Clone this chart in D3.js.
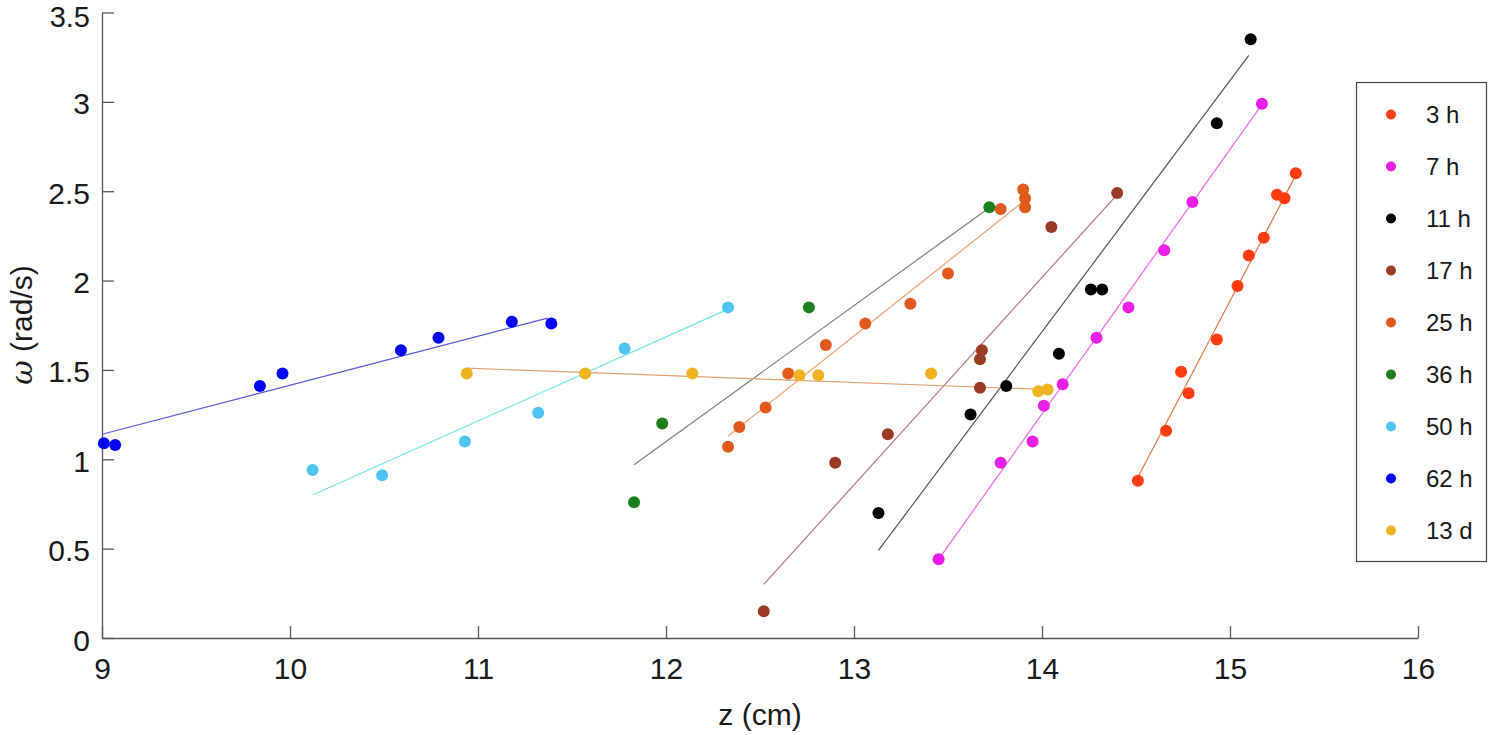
<!DOCTYPE html>
<html>
<head>
<meta charset="utf-8">
<script src="https://cdn.jsdelivr.net/npm/d3@7"></script>
<style>
  body { margin: 0; background: #fff; }
  text { font-family: "Liberation Sans", Arial, sans-serif; fill: #1a1a1a; }
</style>
</head>
<body>
<div id="chart"></div>
<script>

// series labels and colours (legend order)
var seriesNames = ["3 h", "7 h", "11 h", "17 h", "25 h", "36 h", "50 h", "62 h", "13 d"];
var dotColors = ["#ff3d0f", "#ea1ee6", "#000000", "#9a3b24", "#df5a1c", "#1b7f1b", "#4dc3f2", "#0000ff", "#efb322"];
var lineColors = ["#e07a40", "#ee66ee", "#555555", "#b07a88", "#f0a070", "#7d8272", "#6fe8e6", "#5555dd", "#e0a070"];

// measured z (cm) per series
var zVals = [
  [14.51, 14.66, 14.74, 14.78, 14.93, 15.04, 15.10, 15.18, 15.25, 15.29, 15.35],
  [13.45, 13.78, 13.95, 14.01, 14.11, 14.29, 14.46, 14.65, 14.80, 15.17],
  [13.13, 13.62, 13.81, 14.09, 14.26, 14.32, 14.93, 15.11],
  [12.52, 12.90, 13.18, 13.67, 13.67, 13.68, 14.05, 14.40],
  [12.33, 12.39, 12.53, 12.65, 12.85, 13.06, 13.30, 13.50, 13.78, 13.90, 13.91, 13.91],
  [11.83, 11.98, 12.76, 13.72],
  [10.12, 10.49, 10.93, 11.32, 11.78, 12.33],
  [9.01, 9.07, 9.84, 9.96, 10.59, 10.79, 11.18, 11.39],
  [10.94, 11.57, 12.14, 12.71, 12.81, 13.41, 13.98, 14.03]
];

// measured omega (rad/s) per series
var wVals = [
  [0.88, 1.16, 1.49, 1.37, 1.67, 1.97, 2.14, 2.24, 2.48, 2.46, 2.60],
  [0.44, 0.98, 1.10, 1.30, 1.42, 1.68, 1.85, 2.17, 2.44, 2.99],
  [0.70, 1.25, 1.41, 1.59, 1.95, 1.95, 2.88, 3.35],
  [0.15, 0.98, 1.14, 1.40, 1.56, 1.61, 2.30, 2.49],
  [1.07, 1.18, 1.29, 1.48, 1.64, 1.76, 1.87, 2.04, 2.40, 2.51, 2.46, 2.41],
  [0.76, 1.20, 1.85, 2.41],
  [0.94, 0.91, 1.10, 1.26, 1.62, 1.85],
  [1.09, 1.08, 1.41, 1.48, 1.61, 1.68, 1.77, 1.76],
  [1.48, 1.48, 1.48, 1.47, 1.47, 1.48, 1.38, 1.39]
];

// fitted line ends per series: [z start, w start, z end, w end]
var fitLines = [
  [14.51, 0.90, 15.35, 2.59],
  [13.45, 0.44, 15.16, 2.97],
  [13.13, 0.49, 15.10, 3.26],
  [12.52, 0.30, 14.39, 2.47],
  [12.33, 1.13, 13.91, 2.45],
  [11.83, 0.97, 13.71, 2.40],
  [10.12, 0.80, 12.33, 1.84],
  [9.00, 1.14, 11.37, 1.79],
  [10.94, 1.51, 14.03, 1.39]
];

var xTicks = [9, 10, 11, 12, 13, 14, 15, 16];
var yTicks = [0, 0.5, 1, 1.5, 2, 2.5, 3, 3.5];

var W = 1488, H = 735;
var margin = {top: 12.5, left: 102, right: 70, bottom: 97};
var plotW = 1418 - margin.left, plotH = 638 - margin.top;

var svg = d3.select("#chart").append("svg")
    .attr("width", W)
    .attr("height", H);

var g = svg.append("g")
    .attr("transform", "translate(" + margin.left + "," + margin.top + ")");

var x = d3.scaleLinear().domain([9, 16]).range([0, plotW]);
var y = d3.scaleLinear().domain([0, 3.5]).range([plotH, 0]);

// axes, ticks pointing inward like matlab
var xAxis = g.append("g")
    .attr("transform", "translate(0," + plotH + ")")
    .call(d3.axisBottom(x).tickValues(xTicks).tickSize(-12).tickSizeOuter(0).tickPadding(20).tickFormat(d3.format("d")));
var yAxis = g.append("g")
    .call(d3.axisLeft(y).tickValues(yTicks).tickSize(-12).tickSizeOuter(0).tickPadding(12).tickFormat(function(d) { return d; }));

[xAxis, yAxis].forEach(function(a) {
    a.select(".domain").attr("stroke", "#555").attr("stroke-width", 1.3);
    a.selectAll(".tick line").attr("stroke", "#555").attr("stroke-width", 1.3);
    a.selectAll(".tick text").attr("font-size", 30).attr("fill", "#1a1a1a")
        .attr("font-family", "'Liberation Sans', Arial, sans-serif");
});
xAxis.selectAll(".tick text").attr("dy", "0.71em").attr("y", 20);
yAxis.selectAll(".tick text").attr("dy", "0.4em");
// top label sits right at the edge, nudge it so it stays inside
yAxis.selectAll(".tick text").filter(function(d) { return d === 3.5; })
    .attr("font-size", 29).attr("dy", "0.48em");

// axis titles
svg.append("text")
    .attr("x", 760)
    .attr("y", 725)
    .attr("text-anchor", "middle")
    .attr("font-size", 30)
    .text("z (cm)");

svg.append("text")
    .attr("transform", "translate(32," + 325 + ") rotate(-90)")
    .attr("text-anchor", "middle")
    .attr("font-size", 30)
    .html('<tspan font-style="italic" font-family="DejaVu Serif">ω</tspan> (rad/s)');

// fit lines
g.selectAll(".fit")
    .data(fitLines)
    .enter().append("line")
    .attr("class", "fit")
    .attr("x1", function(d) { return x(d[0]); })
    .attr("y1", function(d) { return y(d[1]); })
    .attr("x2", function(d) { return x(d[2]); })
    .attr("y2", function(d) { return y(d[3]); })
    .attr("stroke", function(d, i) { return lineColors[i]; })
    .attr("stroke-width", 1.2);

// points
seriesNames.forEach(function(name, i) {
    var pts = zVals[i].map(function(z, j) { return {z: z, w: wVals[i][j]}; });
    g.selectAll(".dot-" + i)
        .data(pts)
        .enter().append("circle")
        .attr("class", "dot-" + i)
        .attr("cx", function(d) { return x(d.z); })
        .attr("cy", function(d) { return y(d.w); })
        .attr("r", 6)
        .attr("fill", dotColors[i]);
});

// legend
var legend = svg.append("g");
legend.append("rect")
    .attr("x", 1356.5)
    .attr("y", 82.5)
    .attr("width", 130)
    .attr("height", 479)
    .attr("fill", "#fff")
    .attr("stroke", "#444")
    .attr("stroke-width", 1.2);

var items = legend.selectAll(".item")
    .data(seriesNames)
    .enter().append("g")
    .attr("class", "item")
    .attr("transform", function(d, i) { return "translate(0," + (114.5 + i * 52) + ")"; });

items.append("circle")
    .attr("cx", 1391)
    .attr("cy", 0)
    .attr("r", 5)
    .attr("fill", function(d, i) { return dotColors[i]; });

items.append("text")
    .attr("x", 1426)
    .attr("y", 0)
    .attr("dy", "0.36em")
    .attr("font-size", 24)
    .text(function(d) { return d; });

</script>
</body>
</html>
